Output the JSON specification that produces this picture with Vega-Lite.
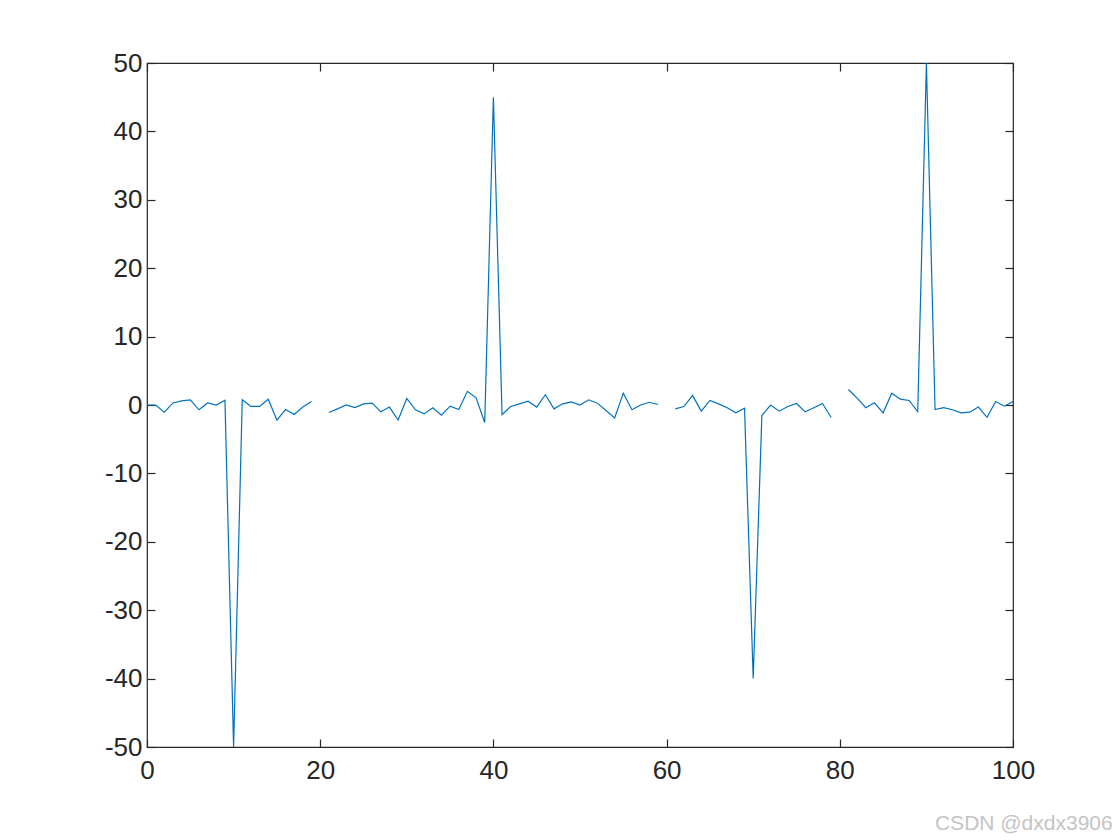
{
  "$schema": "https://vega.github.io/schema/vega-lite/v6.json",
  "autosize": "none",
  "width": 866,
  "height": 684,
  "padding": {"left": 147, "top": 63, "right": 107, "bottom": 93},
  "background": "white",
  "config": {
    "view": {"stroke": "#262626", "strokeWidth": 1.2},
    "axis": {
      "grid": false,
      "domain": false,
      "tickColor": "#262626",
      "tickSize": -8,
      "tickWidth": 1.2,
      "labelFont": "Liberation Sans",
      "labelFontSize": 26,
      "labelColor": "#262626",
      "labelFlush": false,
      "labelOverlap": false,
      "labelExpr": "'' + datum.value",
      "titleFontSize": 0
    }
  },
  "title": {
    "text": "CSDN @dxdx3906",
    "orient": "bottom",
    "anchor": "end",
    "font": "Liberation Sans",
    "fontSize": 21,
    "fontWeight": "normal",
    "color": "#c4c4c4",
    "dx": 78,
    "offset": 30
  },
  "data": {
    "values": [
      {"x": 0, "y": 0}, {"x": 1, "y": 0}, {"x": 2, "y": -1.05}, {"x": 3, "y": 0.3}, {"x": 4, "y": 0.6},
      {"x": 5, "y": 0.76}, {"x": 6, "y": -0.7}, {"x": 7, "y": 0.3}, {"x": 8, "y": 0.0}, {"x": 9, "y": 0.7},
      {"x": 10, "y": -50}, {"x": 11, "y": 0.76}, {"x": 12, "y": -0.2}, {"x": 13, "y": -0.2}, {"x": 14, "y": 0.85},
      {"x": 15, "y": -2.2}, {"x": 16, "y": -0.66}, {"x": 17, "y": -1.4}, {"x": 18, "y": -0.3}, {"x": 19, "y": 0.5},
      {"x": 20, "y": null},
      {"x": 21, "y": -1.1}, {"x": 22, "y": -0.56}, {"x": 23, "y": 0.0}, {"x": 24, "y": -0.37}, {"x": 25, "y": 0.17},
      {"x": 26, "y": 0.27}, {"x": 27, "y": -1.0}, {"x": 28, "y": -0.3}, {"x": 29, "y": -2.2}, {"x": 30, "y": 0.95},
      {"x": 31, "y": -0.7}, {"x": 32, "y": -1.3}, {"x": 33, "y": -0.4}, {"x": 34, "y": -1.5}, {"x": 35, "y": -0.17},
      {"x": 36, "y": -0.66}, {"x": 37, "y": 2.0}, {"x": 38, "y": 1.05}, {"x": 39, "y": -2.56}, {"x": 40, "y": 45},
      {"x": 41, "y": -1.4}, {"x": 42, "y": -0.22}, {"x": 43, "y": 0.17}, {"x": 44, "y": 0.56}, {"x": 45, "y": -0.3},
      {"x": 46, "y": 1.5}, {"x": 47, "y": -0.56}, {"x": 48, "y": 0.17}, {"x": 49, "y": 0.46}, {"x": 50, "y": 0.0},
      {"x": 51, "y": 0.76}, {"x": 52, "y": 0.27}, {"x": 53, "y": -0.8}, {"x": 54, "y": -1.9}, {"x": 55, "y": 1.73},
      {"x": 56, "y": -0.7}, {"x": 57, "y": 0.0}, {"x": 58, "y": 0.4}, {"x": 59, "y": 0.07},
      {"x": 60, "y": null},
      {"x": 61, "y": -0.56}, {"x": 62, "y": -0.22}, {"x": 63, "y": 1.4}, {"x": 64, "y": -0.9}, {"x": 65, "y": 0.66},
      {"x": 66, "y": 0.17}, {"x": 67, "y": -0.4}, {"x": 68, "y": -1.15}, {"x": 69, "y": -0.46}, {"x": 70, "y": -40},
      {"x": 71, "y": -1.54}, {"x": 72, "y": 0.0}, {"x": 73, "y": -0.9}, {"x": 74, "y": -0.22}, {"x": 75, "y": 0.22},
      {"x": 76, "y": -1.0}, {"x": 77, "y": -0.4}, {"x": 78, "y": 0.22}, {"x": 79, "y": -1.83},
      {"x": 80, "y": null},
      {"x": 81, "y": 2.27}, {"x": 82, "y": 1.0}, {"x": 83, "y": -0.4}, {"x": 84, "y": 0.32}, {"x": 85, "y": -1.15},
      {"x": 86, "y": 1.73}, {"x": 87, "y": 0.85}, {"x": 88, "y": 0.66}, {"x": 89, "y": -0.95}, {"x": 90, "y": 50},
      {"x": 91, "y": -0.66}, {"x": 92, "y": -0.4}, {"x": 93, "y": -0.7}, {"x": 94, "y": -1.15}, {"x": 95, "y": -1.05},
      {"x": 96, "y": -0.3}, {"x": 97, "y": -1.8}, {"x": 98, "y": 0.5}, {"x": 99, "y": -0.17}, {"x": 100, "y": 0.5}
    ]
  },
  "layer": [
    {
      "mark": {"type": "line", "color": "#0072BD", "strokeWidth": 1.2, "invalid": "break-paths-show-domains", "clip": true},
      "encoding": {
        "x": {"field": "x", "type": "quantitative", "scale": {"domain": [0, 100], "nice": false, "zero": false},
              "axis": {"orient": "bottom", "values": [0, 20, 40, 60, 80, 100], "labelPadding": 18, "title": null}},
        "y": {"field": "y", "type": "quantitative", "scale": {"domain": [-50, 50], "nice": false},
              "axis": {"orient": "left", "values": [-50, -40, -30, -20, -10, 0, 10, 20, 30, 40, 50], "labelPadding": 13, "title": null}}
      }
    },
    {
      "mark": {"type": "point", "opacity": 0},
      "encoding": {
        "x": {"field": "x", "type": "quantitative",
              "axis": {"orient": "top", "values": [0, 20, 40, 60, 80, 100], "labels": false, "title": null}},
        "y": {"field": "y", "type": "quantitative",
              "axis": {"orient": "right", "values": [-50, -40, -30, -20, -10, 0, 10, 20, 30, 40, 50], "labels": false, "title": null}}
      }
    }
  ],
  "resolve": {"axis": {"x": "independent", "y": "independent"}}
}
